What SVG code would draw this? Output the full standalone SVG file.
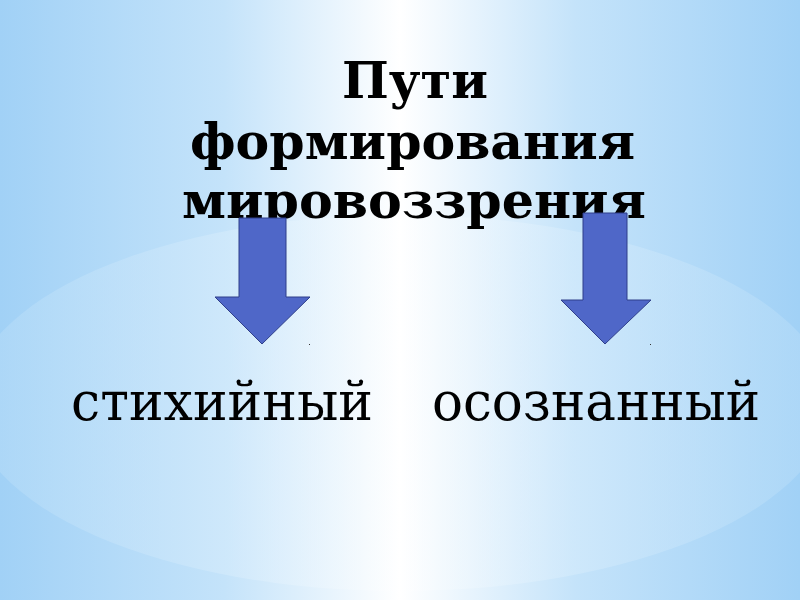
<svg xmlns="http://www.w3.org/2000/svg" width="800" height="600" viewBox="0 0 800 600">
<defs>
<linearGradient id="bg" x1="0" y1="0" x2="1" y2="0">
<stop offset="0" stop-color="#a1d1f6"/>
<stop offset="0.28" stop-color="#c4e3fa"/>
<stop offset="0.5" stop-color="#ffffff"/>
<stop offset="0.72" stop-color="#c4e3fa"/>
<stop offset="1" stop-color="#a1d1f6"/>
</linearGradient>
<linearGradient id="el" x1="0" y1="0" x2="1" y2="0">
<stop offset="0" stop-color="#b4dbf8"/>
<stop offset="0.3" stop-color="#d8edfc"/>
<stop offset="0.5" stop-color="#ffffff"/>
<stop offset="0.7" stop-color="#d8edfc"/>
<stop offset="1" stop-color="#b4dbf8"/>
</linearGradient>
<style>
.title{font-family:"DejaVu Serif",serif;font-weight:bold;font-size:51px;fill:#000}
.lbl{font-family:"DejaVu Serif",serif;font-size:55px;fill:#000}
.arrow{fill:#4f67c8;stroke:#2f3f8a;stroke-width:1}
</style>
</defs>
<rect width="800" height="600" fill="url(#bg)"/>
<ellipse cx="400" cy="403" rx="430" ry="188" fill="url(#el)" opacity="0.5"/>
<g id="title">
<text class="title" x="342" y="98" textLength="146" lengthAdjust="spacingAndGlyphs">Пути</text>
<text class="title" x="190" y="159" textLength="445" lengthAdjust="spacingAndGlyphs">формирования</text>
<text class="title" x="182" y="218" textLength="464" lengthAdjust="spacingAndGlyphs">мировоззрения</text>
</g>
<g id="connectors">
<polygon class="arrow" points="239,218 286,218 286,297 310,297 262,344 215,297 239,297"/>
<polygon class="arrow" points="583,213 627,213 627,300 651,300 605,344 561,300 583,300"/>
<rect x="309" y="344" width="1" height="1" fill="#333"/>
<rect x="650" y="344" width="1" height="1" fill="#333"/>
</g>
<g id="node-spontaneous"><text class="lbl" x="71" y="420" textLength="302" lengthAdjust="spacingAndGlyphs">стихийный</text></g>
<g id="node-conscious"><text class="lbl" x="432" y="420" textLength="328" lengthAdjust="spacingAndGlyphs">осознанный</text></g>
</svg>
